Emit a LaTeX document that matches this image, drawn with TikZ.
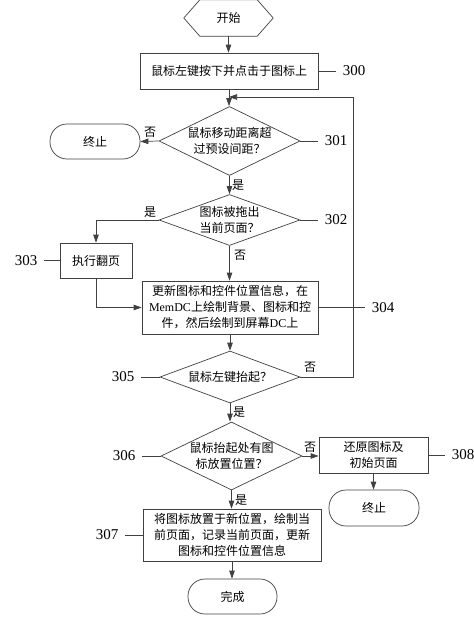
\documentclass[tikz,border=0pt]{standalone}
\usepackage{fontspec}
\setmainfont{Liberation Serif}
\newfontfamily\cjk{Noto Sans CJK SC}
\usetikzlibrary{arrows.meta,shapes.geometric}
\begin{document}
\begin{tikzpicture}[x=1pt,y=-1pt,
  line/.style={draw=black!75, line width=0.7pt},
  arr/.style={line, -{Triangle[length=8pt,width=5.5pt]}},
  txt/.style={font=\cjk\fontsize{12}{16}\selectfont, align=center},
  box/.style={line, rectangle, inner sep=0pt, txt},
  dia/.style={line, diamond, inner sep=0pt},
  term/.style={line, rectangle, rounded corners=17pt, inner sep=0pt, txt},
  num/.style={font=\fontsize{15}{15}\selectfont, inner xsep=7pt, inner ysep=0pt},
  yn/.style={font=\cjk\fontsize{12}{12}\selectfont, inner sep=0pt}]
\useasboundingbox (0,0) rectangle (474,632);

% start hexagon
\node[txt, minimum width=89pt, minimum height=36pt, inner sep=0pt] (start) at (228.5,18) {开始};
\draw[line] ([xshift=16pt]start.north west) -- ([xshift=-16pt]start.north east) -- (start.east)
  -- ([xshift=-16pt]start.south east) -- ([xshift=16pt]start.south west) -- (start.west) -- cycle;

\node[box, minimum width=178pt, minimum height=36pt] (b300) at (229,71) {鼠标左键按下并点击于图标上};
\node[dia, minimum width=141pt, minimum height=69pt,
  label={[txt]center:{鼠标移动距离超\\过预设间距？}}] (d301) at (229.5,141) {};
\node[term, minimum width=90pt, minimum height=35pt] (end1) at (95,141.5) {终止};
\node[dia, minimum width=141pt, minimum height=51pt,
  label={[txt]center:{图标被拖出\\当前页面？}}] (d302) at (229.5,220) {};
\node[box, minimum width=72pt, minimum height=35pt] (b303) at (96,260.5) {执行翻页};
\node[box, minimum width=176pt, minimum height=53pt] (b304) at (230,307.5)
  {更新图标和控件位置信息，在\\{\rmfamily MemDC}上绘制背景、图标和控\\件，然后绘制到屏幕{\rmfamily DC}上};
\node[dia, minimum width=140pt, minimum height=52pt,
  label={[txt]center:{鼠标左键抬起？}}] (d305) at (230,377) {};
\node[dia, minimum width=141pt, minimum height=68pt,
  label={[txt]center:{鼠标抬起处有图\\标放置位置？}}] (d306) at (231.5,456) {};
\node[box, minimum width=109pt, minimum height=36pt] (b308) at (373.5,455) {还原图标及\\初始页面};
\node[term, minimum width=90pt, minimum height=36pt] (end2) at (374,508) {终止};
\node[box, minimum width=178pt, minimum height=52pt] (b307) at (232,535)
  {将图标放置于新位置，绘制当\\前页面，记录当前页面，更新\\图标和控件位置信息};
\node[term, minimum width=89pt, minimum height=35pt] (done) at (232.5,596.5) {完成};

% numbers
\node[num] (n300) at (354,71) {300};
\node[num] (n301) at (336,141) {301};
\node[num] (n302) at (336,220) {302};
\node[num] (n303) at (26,260.5) {303};
\node[num] (n304) at (383,307.5) {304};
\node[num] (n305) at (123,377) {305};
\node[num] (n306) at (124,456) {306};
\node[num] (n307) at (107,535) {307};
\node[num] (n308) at (463,455) {308};
\draw[line] (b300.east) -- (n300);
\draw[line] (d301.east) -- (n301);
\draw[line] (d302.east) -- (n302);
\draw[line] (n303) -- (b303.west);
\draw[line] (b304.east) -- (n304);
\draw[line] (n305) -- (d305.west);
\draw[line] (n306) -- (d306.west);
\draw[line] (n307) -- (b307.west);
\draw[line] (b308.east) -- (n308);

% yes/no labels
\node[yn] (y1) at (150,132) {否};
\node[yn] (y2) at (238,185) {是};
\node[yn] (y3) at (150,212) {是};
\node[yn] (y4) at (240,255) {否};
\node[yn] (y5) at (310,367) {否};
\node[yn] (y6) at (239,412) {是};
\node[yn] (y7) at (310,447) {否};
\node[yn] (y8) at (241,500) {是};

% connectors
\coordinate (join) at (229,97);
\coordinate (loopx) at (353,97);
\draw[arr] (start.south) -- (start.south |- b300.north);
\draw[arr] (b300.south) -- (b300.south |- d301.north);
\draw[arr] (d305.east) -| (loopx) -- (join);
\draw[arr] (d301.west) -- (end1.east);
\draw[arr] (d301.south) -- (d301.south |- d302.north);
\draw[arr] (d302.west) -| (b303.north);
\draw[arr] (d302.south) -- (d302.south |- b304.north);
\draw[arr] (b303.south) |- (b304.west);
\draw[arr] (b304.south) -- (b304.south |- d305.north);
\draw[arr] (d305.south) -- (d305.south |- d306.north);
\draw[arr] (d306.east) -- (d306.east -| b308.west);
\draw[arr] (b308.south) -- (b308.south |- end2.north);
\draw[arr] (d306.south) -- (d306.south |- b307.north);
\draw[arr] (b307.south) -- (b307.south |- done.north);
\end{tikzpicture}
\end{document}
